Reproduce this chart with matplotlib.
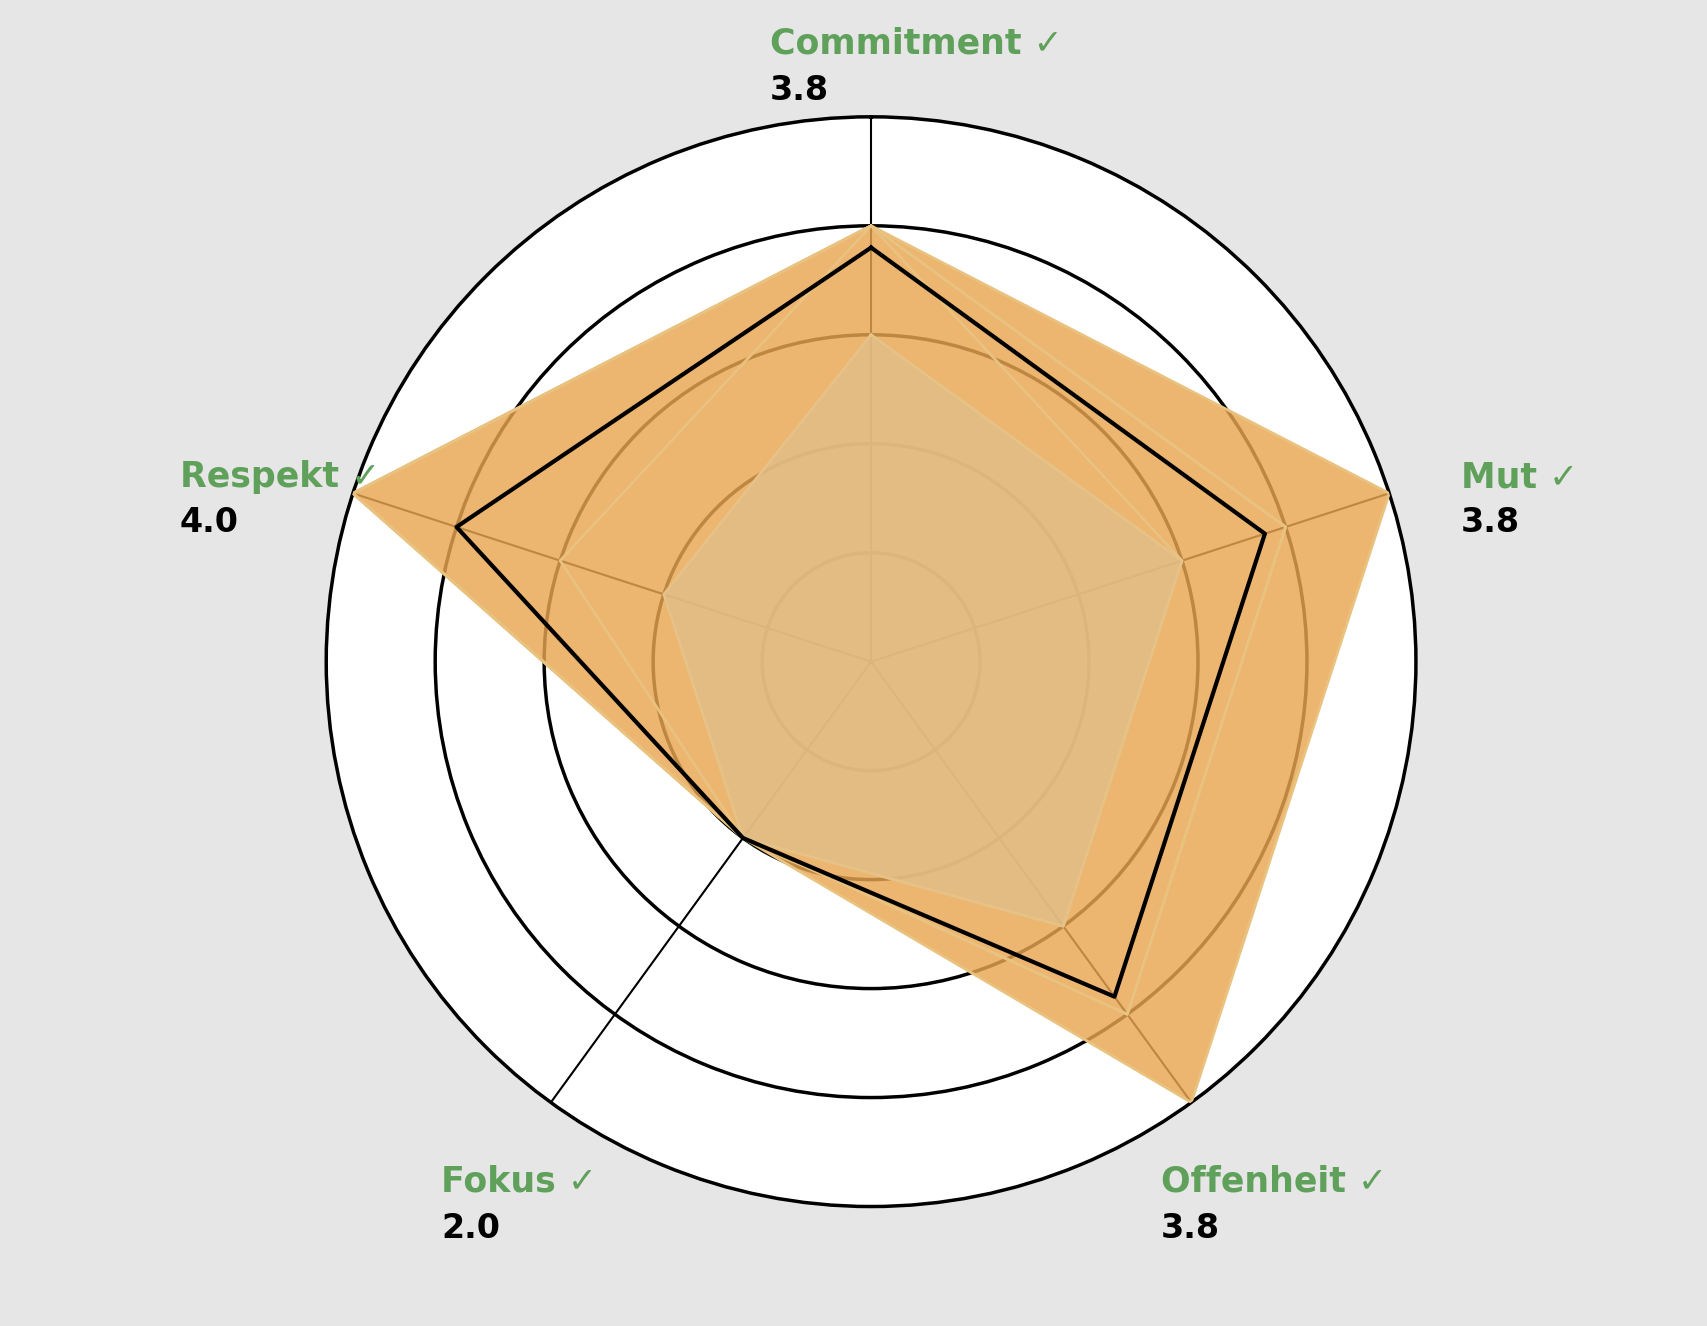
import numpy as np
import matplotlib
matplotlib.use("Agg")
import matplotlib.pyplot as plt

CATEGORIES = ["Commitment", "Mut", "Offenheit", "Fokus", "Respekt"]
# individual ratings (one row per respondent)
RESPONSES = [
    [4, 5, 5, 2, 5],
    [4, 4, 4, 2, 5],
    [4, 4, 4, 2, 5],
    [4, 3, 3, 2, 3],
    [3, 3, 3, 2, 2],
]
AVERAGE = [3.8, 3.8, 3.8, 2.0, 4.0]
# label anchors in figure pixels (left edge, centre y from top)
LABEL_POS = [(770, 44), (1461, 477), (1161, 1182), (441, 1182), (180, 477)]

W, H = 1708, 1326
BG = "#e6e6e6"
ORANGE = "#e8a550"
LIGHT = "#e2be88"
GREEN = "#5fa05a"

fig = plt.figure(figsize=(W / 100, H / 100), dpi=100, facecolor=BG)
ax = fig.add_axes([0.510 - 0.319, 0.501 - 0.411, 0.638, 0.822], projection="polar")
ax.set_theta_zero_location("N")
ax.set_theta_direction(-1)
ax.set_facecolor("white")

n = len(CATEGORIES)
theta = np.arange(n) * 2 * np.pi / n
tc = np.append(theta, theta[0])

def closed(v):
    return np.append(v, v[0])

# grid: rings and spokes
ax.set_ylim(0, 5)
ax.set_yticks([1, 2, 3, 4])
ax.set_yticklabels([])
ax.set_xticks(theta)
ax.set_xticklabels([])
ax.yaxis.grid(True, color="black", lw=2.5)
ax.xaxis.grid(True, color="black", lw=1.5)
ax.spines["polar"].set_color("black")
ax.spines["polar"].set_linewidth(2.5)

env = np.max(np.array(RESPONSES), axis=0)
ax.fill(tc, closed(env), color=ORANGE, alpha=0.82, lw=0, zorder=3)
for r in RESPONSES[:-1]:
    ax.plot(tc, closed(r), color="#e9c27f", lw=2, zorder=4)
ax.fill(tc, closed(RESPONSES[-1]), color=LIGHT, alpha=0.85, lw=0, zorder=5)
ax.plot(tc, closed(RESPONSES[-1]), color="#e6c286", lw=2, zorder=5)
ax.plot(tc, closed(AVERAGE), color="black", lw=3, zorder=6)

for name, val, (x, y) in zip(CATEGORIES, AVERAGE, LABEL_POS):
    fig.text(x / W, 1 - y / H, name + " \u2713", color=GREEN, fontsize=25,
             fontweight="bold", ha="left", va="center")
    fig.text(x / W, 1 - (y + 46) / H, "%.1f" % val, color="black", fontsize=24,
             fontweight="bold", ha="left", va="center")

fig.savefig("out.png", dpi=100, facecolor=BG)
